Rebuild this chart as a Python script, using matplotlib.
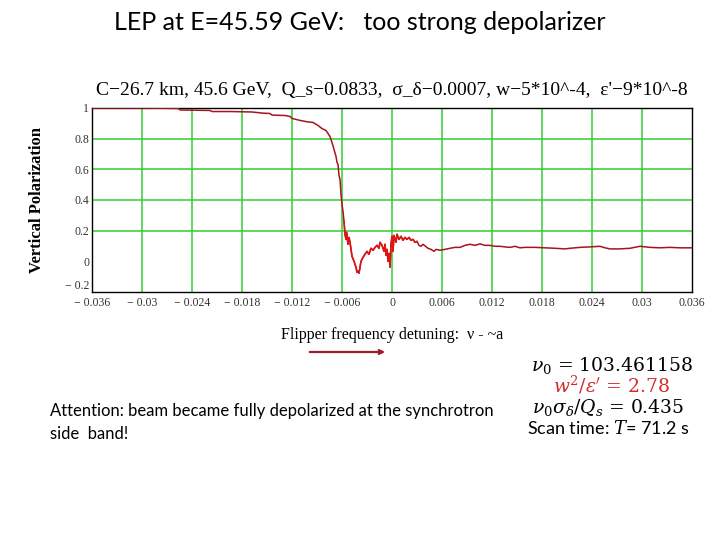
import numpy as np
import matplotlib.pyplot as plt
from matplotlib.patches import FancyArrowPatch

# scan data
detuning = [-0.036, -0.03444, -0.02988, -0.02568, -0.0254, -0.02184, -0.0216, -0.01944, -0.0168,
            -0.0156, -0.01464, -0.0144, -0.01284, -0.01224, -0.0120, -0.01104, -0.01008, -0.00948,
            -0.00888, -0.0084, -0.00792, -0.00768, -0.00744, -0.0072, -0.00696, -0.00672, -0.0066,
            -0.00648, -0.00636, -0.00624, -0.00618, -0.00612, -0.006, -0.00588, -0.00576, -0.00564,
            -0.00552, -0.00546, -0.00528, -0.00516, -0.00504, -0.0048, -0.00456, -0.00432, -0.0042,
            -0.00408, -0.00396, -0.00372, -0.00348, -0.00324, -0.003, -0.00276, -0.00252, -0.00228,
            -0.00204, -0.0018, -0.00156, -0.00144, -0.0012, -0.00096, -0.00084, -0.00072, -0.0006,
            -0.00048, -0.00036, -0.00024, -0.00012, 0.0, 0.00012, 0.00024, 0.00048, 0.0006,
            0.00084, 0.00108, 0.00132, 0.00156, 0.0018, 0.00204, 0.00228, 0.00252, 0.00276,
            0.003, 0.00324, 0.00348, 0.00372, 0.00432, 0.00468, 0.00504, 0.00528, 0.00576,
            0.00636, 0.00696, 0.00756, 0.00816, 0.00876, 0.00936, 0.00996, 0.01056, 0.01116,
            0.01176, 0.01236, 0.01296, 0.01356, 0.01416, 0.01476, 0.01536, 0.01596, 0.01716,
            0.01836, 0.01956, 0.02076, 0.02136, 0.02196, 0.02256, 0.02376, 0.02496, 0.02556,
            0.02616, 0.02736, 0.02856, 0.02976, 0.03096, 0.03216, 0.03336, 0.03456, 0.036]
polarization = [1.0, 1.0, 1.0, 0.997, 0.987, 0.984, 0.977, 0.977, 0.974,
                0.967, 0.964, 0.954, 0.951, 0.945, 0.932, 0.919, 0.909, 0.906,
                0.886, 0.866, 0.853, 0.834, 0.814, 0.775, 0.730, 0.684, 0.645,
                0.632, 0.560, 0.534, 0.489, 0.437, 0.371, 0.326, 0.261, 0.176,
                0.143, 0.189, 0.111, 0.156, 0.124, 0.033, 0.0, -0.039, -0.072,
                -0.063, -0.078, 0.0, 0.026, 0.046, 0.065, 0.046, 0.085, 0.072,
                0.091, 0.104, 0.085, 0.124, 0.104, 0.065, 0.111, 0.039, 0.078,
                0.0, 0.052, -0.039, 0.111, 0.163, 0.065, 0.169, 0.124, 0.176,
                0.143, 0.163, 0.137, 0.156, 0.143, 0.156, 0.137, 0.143, 0.124,
                0.130, 0.104, 0.098, 0.111, 0.085, 0.078, 0.065, 0.078, 0.072,
                0.078, 0.085, 0.091, 0.091, 0.104, 0.111, 0.104, 0.114, 0.104,
                0.104, 0.098, 0.098, 0.094, 0.091, 0.098, 0.088, 0.091, 0.091,
                0.088, 0.085, 0.081, 0.085, 0.088, 0.091, 0.094, 0.098, 0.088,
                0.081, 0.081, 0.085, 0.098, 0.091, 0.088, 0.091, 0.088, 0.088]

xticks = [-0.036, -0.03, -0.024, -0.018, -0.012, -0.006, 0, 0.006, 0.012, 0.018, 0.024, 0.03, 0.036]
xticklabels = ['\u2212 0.036', '\u2212 0.03', '\u2212 0.024', '\u2212 0.018', '\u2212 0.012', '\u2212 0.006',
               '0', '0.006', '0.012', '0.018', '0.024', '0.03', '0.036']
yticks = [-0.2, 0, 0.2, 0.4, 0.6, 0.8, 1]
yticklabels = ['\u2212 0.2', '0', '0.2', '0.4', '0.6', '0.8', '1']

plt.rcParams['mathtext.fontset'] = 'dejavuserif'

fig = plt.figure(figsize=(7.2, 5.4), dpi=100)
fig.patch.set_facecolor('white')

fig.text(0.5, 0.958, 'LEP at E=45.59 GeV:   too strong depolarizer', ha='center', va='center',
         fontsize=18, family='Lato')

ax = fig.add_axes([0.1278, 0.4593, 0.8333, 0.3407])
for x in xticks[1:-1]:
    ax.axvline(x, color='#33cc33', lw=1.1, zorder=1)
for y in [0.2, 0.4, 0.6, 0.8]:
    ax.axhline(y, color='#33cc33', lw=1.1, zorder=1)

ax.plot(detuning, polarization, color='#a8141c', lw=1.1, zorder=3)
# the noisy part right after the resonance looks brighter red
ax.plot(detuning[34:82], polarization[34:82], color='#e01414', lw=1.1, zorder=4)

ax.set_xlim(-0.036, 0.036)
ax.set_ylim(-0.2, 1.0)
ax.set_xticks(xticks)
ax.set_xticklabels(xticklabels, family='Liberation Serif', fontsize=8.5, color='#333333')
ax.set_yticks(yticks)
ax.set_yticklabels(yticklabels, family='Liberation Serif', fontsize=8.5, color='#333333')
ax.tick_params(axis='x', length=0, pad=3.5)
ax.tick_params(axis='y', length=0, pad=2)
ax.get_yticklabels()[0].set_va('bottom')
for s in ax.spines.values():
    s.set_color('black')
    s.set_linewidth(1.0)

ax.set_title("C\u221226.7 km, 45.6 GeV,  Q_s\u22120.0833,  \u03c3_\u03b4\u22120.0007, w\u22125*10^-4,  \u03b5'\u22129*10^-8",
             family='Liberation Serif', fontsize=14, pad=9)
ax.set_ylabel('Vertical Polarization', family='Liberation Serif', fontsize=12, fontweight='bold', labelpad=14)
ax.set_xlabel('Flipper frequency detuning:  \u03bd - ~a', family='Liberation Serif', fontsize=11.5, labelpad=13)

fig.patches.append(FancyArrowPatch(
    (307 / 720, 1 - 352 / 540), (388 / 720, 1 - 352 / 540), transform=fig.transFigure,
    arrowstyle='-|>', mutation_scale=7, color='#a01c2c', lw=1.6))

fig.text(0.85, 1 - 365 / 540, r'$\nu_0$ = 103.461158', ha='center', va='center', fontsize=13.5,
         family='DejaVu Serif')
fig.text(0.849, 1 - 385 / 540, r"$w^2/\varepsilon'$ = 2.78", ha='center', va='center', fontsize=13.5,
         family='DejaVu Serif', color='#d42a2a')
fig.text(0.845, 1 - 407 / 540, r'$\nu_0\sigma_\delta/Q_s$ = 0.435', ha='center', va='center', fontsize=13.5,
         family='DejaVu Serif')
fig.text(0.845, 1 - 428 / 540, r'Scan time: $T$= 71.2 s', ha='center', va='center', fontsize=13,
         family='Lato')

fig.text(50 / 720, 1 - 411 / 540, 'Attention: beam became fully depolarized at the synchrotron',
         ha='left', va='center', fontsize=12, family='Lato')
fig.text(50 / 720, 1 - 434 / 540, 'side  band!', ha='left', va='center', fontsize=12, family='Lato')

fig.savefig('out.png', dpi=100)
